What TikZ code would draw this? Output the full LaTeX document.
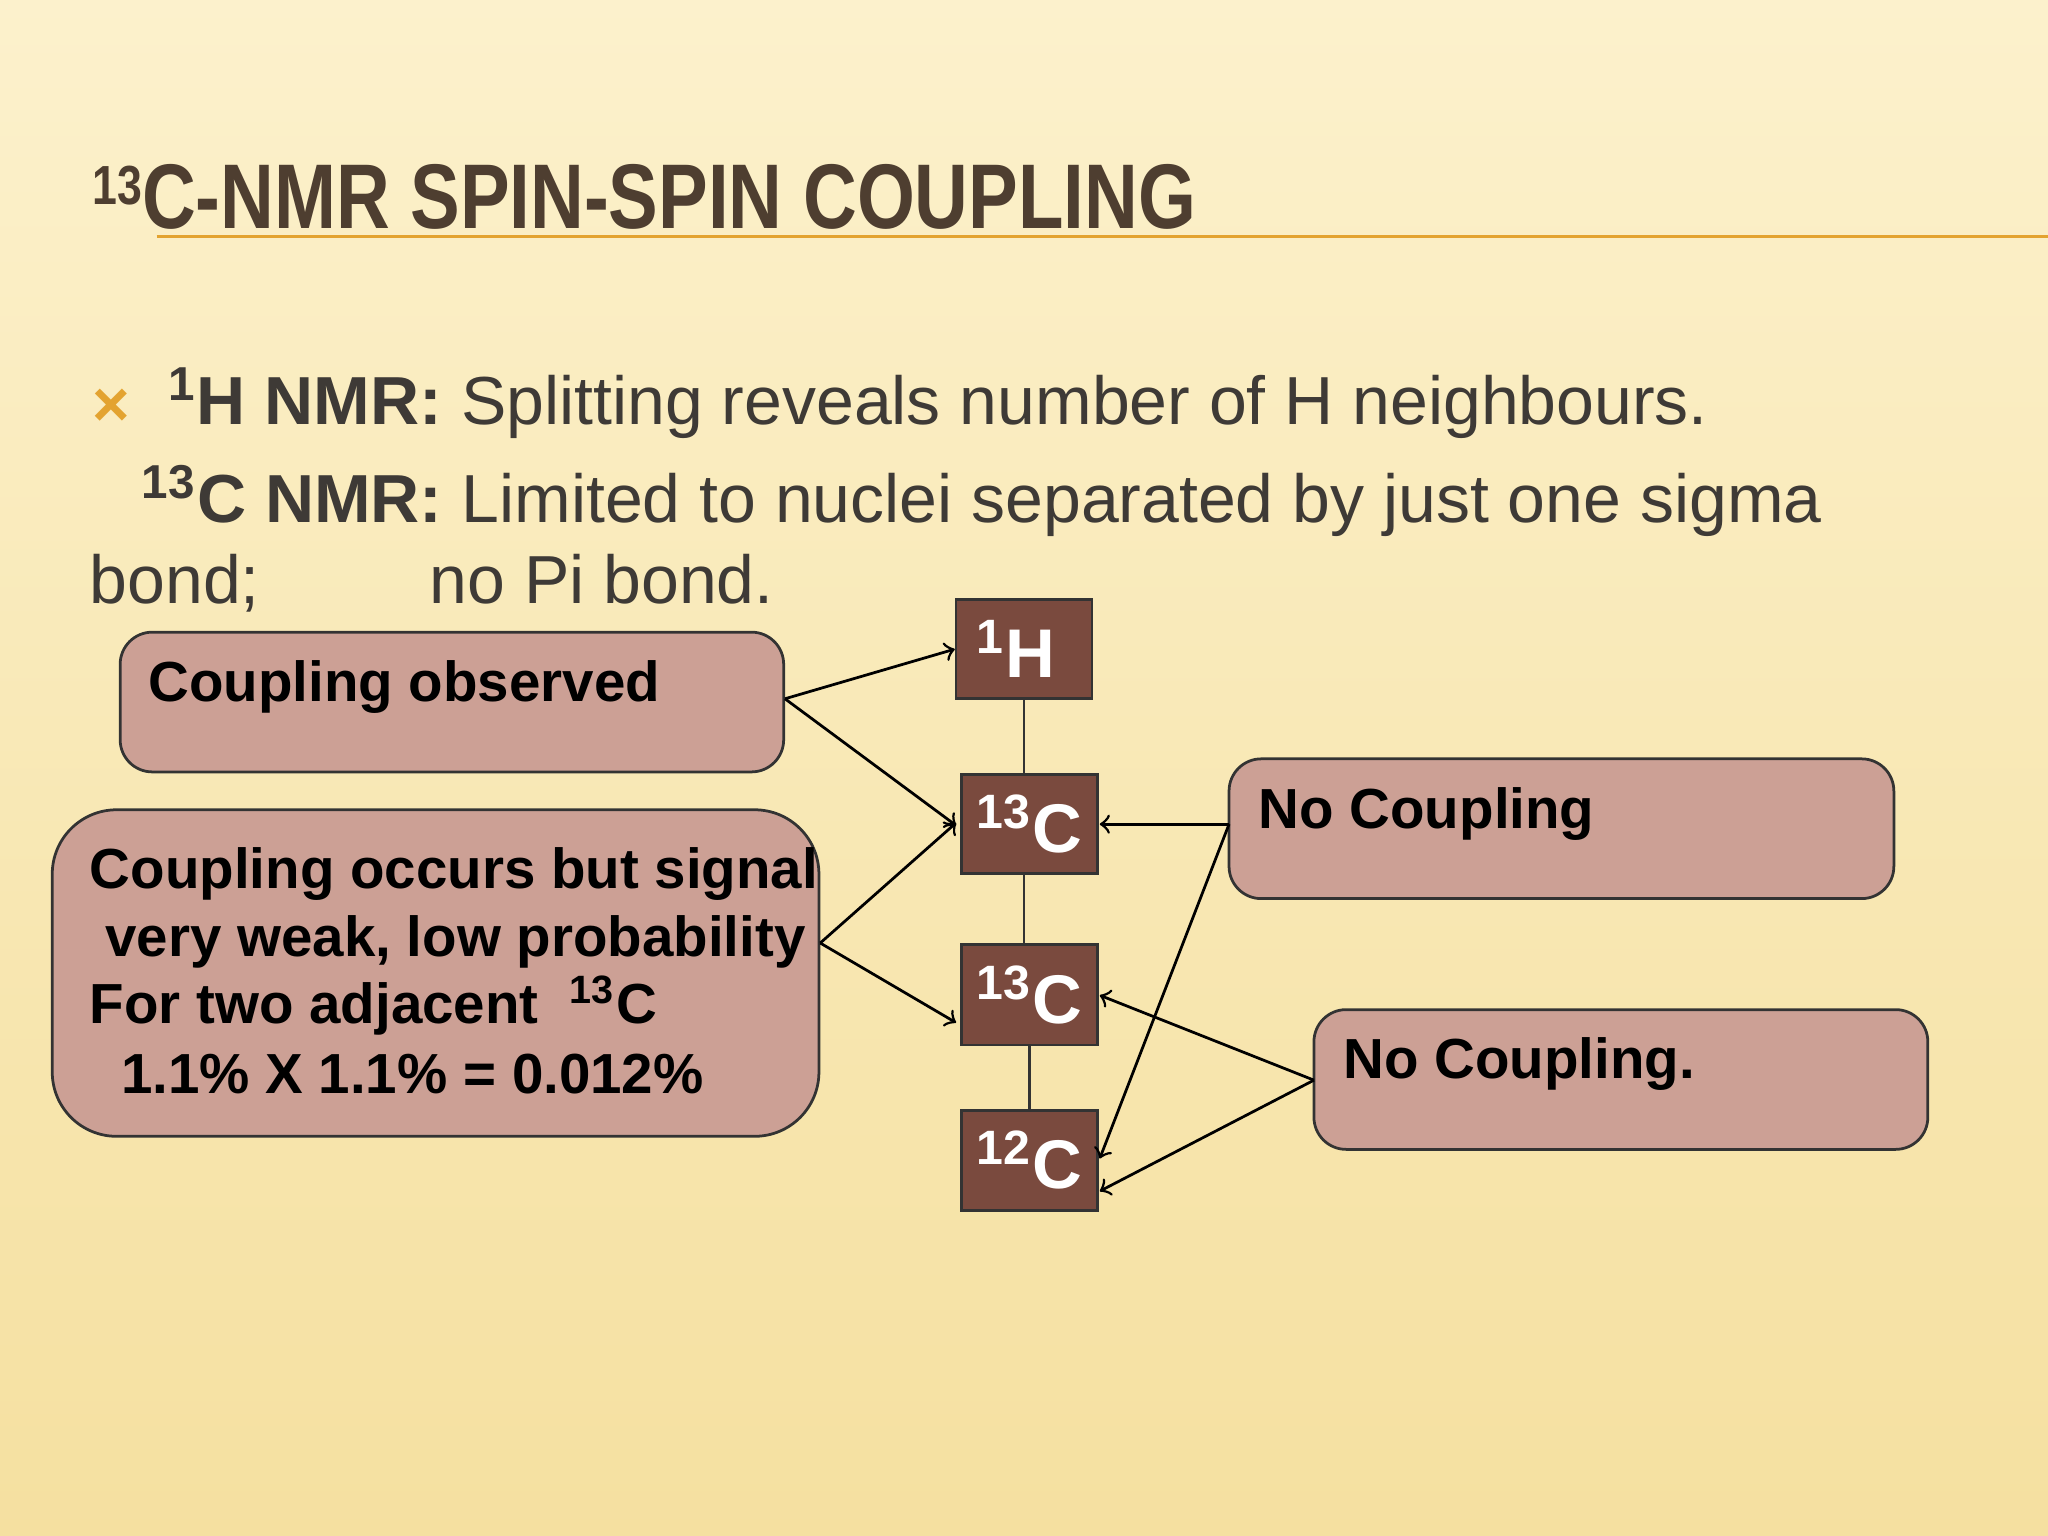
\documentclass[tikz,border=0pt]{standalone}
\usepackage{fontspec}
\setmainfont{Liberation Sans}
\begin{document}
\begin{tikzpicture}[x=0.01cm,y=-0.01cm,
 box/.style={draw=black!80,fill=boxc,rounded corners=7pt,line width=0.6pt},
 nuc/.style={draw=black!80,fill=nucc,line width=0.6pt},
 nt/.style={text=white,font=\bfseries\fontsize{15}{18}\selectfont},
 bt/.style={font=\bfseries\fontsize{12.3}{16}\selectfont,anchor=base west,inner sep=0},
 arr/.style={->,line width=0.6pt},
 ln/.style={line width=0.6pt,draw=black!80}]
\definecolor{boxc}{HTML}{CCA095}
\definecolor{nucc}{HTML}{7A4A3E}
\definecolor{ttl}{HTML}{4E3E30}
\definecolor{txt}{HTML}{3E3A36}
\definecolor{bg1}{HTML}{FCF1CC}
\definecolor{bg2}{HTML}{F5E0A0}
\definecolor{org}{HTML}{E3A330}
\shade[top color=bg1,bottom color=bg2] (0,0) rectangle (1568,1176);
\useasboundingbox (0,0) rectangle (1568,1176);
% title
\node[anchor=base west,inner sep=0,text=ttl,font=\bfseries\fontsize{20}{22}\selectfont] (title) at (70,175)
 {\scalebox{0.81}[1]{\raisebox{0.5ex}{\fontsize{12}{12}\selectfont 13}C-NMR SPIN-SPIN COUPLING}};
\draw[org,line width=0.8pt] (120,181) -- (1568,181);
% bullets
\node[text=org,font=\fontsize{14}{14}\selectfont\bfseries] (bul) at (85,312) {×};
\node[anchor=base west,inner sep=0,text=txt,font=\fontsize{14.8}{16}\selectfont] (l1) at (128,325)
 {\textsuperscript{\bfseries 1}\textbf{H NMR:} Splitting reveals number of H neighbours.};
\node[anchor=base west,inner sep=0,text=txt,font=\fontsize{14.8}{16}\selectfont] (l2) at (108,400)
 {\textsuperscript{\bfseries 13}\textbf{C NMR:} Limited to nuclei separated by just one sigma};
\node[anchor=base west,inner sep=0,text=txt,font=\fontsize{14.8}{16}\selectfont] (l3) at (68,462)
 {bond;\hspace{2.5em}no Pi bond.};
% boxes
\draw[box] (92,484) rectangle (600,591);
\node[bt] (ta) at (113,537) {Coupling observed};
\draw[box,rounded corners=14pt] (40,620) rectangle (627,870);
\node[bt] (tb1) at (68,680) {Coupling occurs but signal};
\node[bt] (tb2) at (80,732) {very weak, low probability};
\node[bt] (tb3) at (68,784) {For two adjacent \ \textsuperscript{13}C};
\node[bt] (tb4) at (92,837) {1.1\% X 1.1\% = 0.012\%};
\draw[box] (941,581) rectangle (1450,688);
\node[bt] (tc) at (963,634) {No Coupling};
\draw[box] (1006,773) rectangle (1476,880);
\node[bt] (td) at (1028,826) {No Coupling.};
% nuclei
\draw[ln] (784,535) -- (784,593);
\draw[ln] (784,669) -- (784,723);
\draw[ln] (788,800) -- (788,850);
\draw[nuc] (732,459) rectangle (836,535);
\node[nt] (h) at (778,497) {\textsuperscript{1}H};
\draw[nuc] (736,593) rectangle (840,669);
\node[nt] (c1) at (788,631) {\textsuperscript{13}C};
\draw[nuc] (736,723) rectangle (840,800);
\node[nt] (c2) at (788,762) {\textsuperscript{13}C};
\draw[nuc] (736,850) rectangle (840,927);
\node[nt] (c3) at (788,888) {\textsuperscript{12}C};
% arrows
\coordinate (a) at (601,535); \coordinate (b) at (628,722);
\coordinate (c) at (941,631); \coordinate (d) at (1006,827);
\draw[arr] (a) -- (731,497);
\draw[arr] (a) -- (732,632);
\draw[arr] (b) -- (732,630);
\draw[arr] (b) -- (732,783);
\draw[arr] (c) -- (842,631);
\draw[arr] (c) -- (842,887);
\draw[arr] (d) -- (842,762);
\draw[arr] (d) -- (842,912);
\end{tikzpicture}
\end{document}
